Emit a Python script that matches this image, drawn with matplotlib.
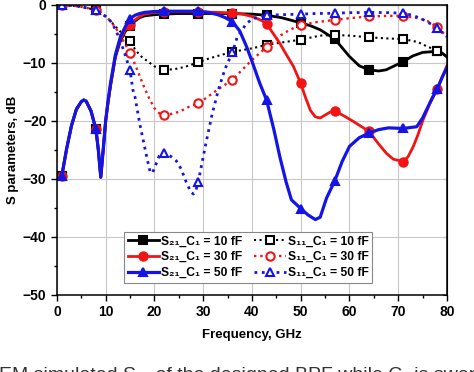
import matplotlib
matplotlib.use('Agg')
import matplotlib.pyplot as plt
from matplotlib.ticker import MultipleLocator

plt.rcParams['font.family'] = ['Liberation Sans', 'DejaVu Sans']
plt.rcParams['font.weight'] = 'bold'

# frequencies (GHz) where the markers sit
MARK_F = [1, 8, 15, 22, 29, 36, 43, 50, 57, 64, 71, 78]

# S21, C1 = 10 fF
f_s21_10 = [1, 2, 3, 4, 5, 5.5, 6, 7, 8, 8.5, 9, 9.5, 10, 10.5, 11, 12, 13, 14, 15, 16, 17, 18,
            20, 22, 25, 29, 33, 36, 40, 43, 46, 50, 52, 54, 57, 60, 62, 64, 66, 67.5, 69, 71,
            73, 75, 78, 79, 80]
s21_10 = [-29.5, -24.8, -20.8, -18.0, -16.7, -16.4, -16.6, -18.3, -21.4, -25.0, -29.7, -25.0,
          -20.0, -16.8, -14.0, -9.0, -6.3, -4.6, -3.7, -2.8, -2.2, -1.9, -1.7, -1.6, -1.5, -1.5,
          -1.5, -1.5, -1.6, -1.8, -2.2, -3.1, -3.6, -4.3, -5.9, -8.9, -10.5, -11.2, -11.4, -11.2,
          -10.6, -9.8, -8.8, -8.2, -8.0, -8.3, -9.0]

# S11, C1 = 10 fF
f_s11_10 = [1, 2, 4, 6, 8, 9, 10, 11, 12, 13, 14, 15, 16, 17, 18.4, 20, 22, 24, 25.2, 27, 29, 31,
            33, 36, 40, 43, 46, 50, 54, 57, 60, 64, 68, 71, 74, 76, 78, 80]
s11_10 = [0.0, -0.05, -0.2, -0.5, -0.9, -1.4, -2.0, -2.8, -3.7, -4.6, -5.5, -6.3, -7.6, -8.7, -9.6,
          -10.6, -11.2, -11.1, -10.9, -10.5, -9.9, -9.3, -8.8, -8.1, -7.5, -6.9, -6.5, -6.0, -5.3,
          -5.2, -5.3, -5.6, -5.8, -5.9, -6.4, -7.2, -7.9, -8.9]

# S21, C1 = 30 fF
f_s21_30 = [1, 2, 3, 4, 5, 5.5, 6, 7, 8, 8.5, 9, 9.5, 10, 10.5, 11, 12, 13, 14, 15, 16, 17, 18,
            20, 22, 29, 33, 36, 38, 40, 42, 43, 44, 45.7, 47, 48.5, 50, 51, 52, 53, 54, 55, 56,
            57, 59, 60.8, 64, 66, 67.6, 69, 71, 72, 73.1, 74, 75.1, 76.5, 78, 79, 80]
s21_30 = [-29.5, -24.8, -20.8, -18.0, -16.7, -16.4, -16.6, -18.3, -21.4, -25.0, -29.7, -25.0,
          -20.0, -16.7, -13.8, -8.8, -6.0, -4.3, -3.5, -2.6, -2.0, -1.6, -1.3, -1.2, -1.2, -1.3,
          -1.4, -1.6, -2.0, -2.7, -3.3, -4.5, -6.6, -8.5, -10.6, -13.5, -16.0, -18.2, -19.3, -19.5,
          -19.0, -18.5, -18.3, -19.2, -20.1, -21.8, -24.0, -25.6, -26.6, -27.0, -26.2, -24.4,
          -22.5, -19.8, -17.0, -14.5, -12.5, -10.5]

# S11, C1 = 30 fF
f_s11_30 = [1, 2, 4, 6, 8, 9, 10, 11, 12, 13, 14, 15, 16, 17, 18, 19.1, 20, 21, 22, 23, 25.2, 27,
            29, 31, 33, 36, 38, 40, 43, 46, 48, 50, 53, 57, 60, 64, 68, 71, 74, 76, 78, 80]
s11_30 = [0.0, -0.05, -0.2, -0.5, -0.9, -1.4, -2.0, -2.8, -3.9, -5.3, -6.8, -8.3, -10.2, -12.3,
          -14.4, -16.4, -17.8, -18.7, -19.0, -18.9, -18.4, -17.6, -17.0, -15.8, -14.6, -12.9,
          -11.2, -9.5, -7.3, -5.2, -4.2, -3.5, -3.0, -2.6, -2.3, -2.0, -1.9, -1.9, -2.3, -2.8,
          -3.8, -5.5]

# S21, C1 = 50 fF
f_s21_50 = [1, 2, 3, 4, 5, 5.5, 6, 7, 8, 8.5, 9, 9.5, 10, 10.5, 11, 12, 13, 14, 15, 16, 17, 18,
            20, 22, 29, 31, 33, 34.5, 36, 37.5, 38.9, 40, 41.6, 43, 44.5, 45.7, 47, 48.1, 50,
            51.5, 53, 54, 55.3, 57, 58.5, 60, 62, 64, 66, 68, 71, 73.8, 75, 75.8, 77, 78, 79, 80]
s21_50 = [-29.5, -24.8, -20.8, -18.0, -16.7, -16.4, -16.6, -18.3, -21.4, -25.0, -29.7, -25.0,
          -20.0, -16.5, -13.5, -8.6, -5.6, -3.8, -2.4, -1.8, -1.5, -1.3, -1.15, -1.1, -1.1, -1.3,
          -1.7, -2.2, -2.9, -4.5, -7.2, -9.7, -13.5, -16.4, -21.5, -26.1, -30.5, -33.6, -35.1,
          -36.2, -37.0, -36.6, -33.3, -30.3, -27.0, -24.4, -22.9, -22.1, -21.5, -21.2, -21.3,
          -21.0, -19.5, -18.1, -16.0, -14.5, -12.5, -10.8]

# S11, C1 = 50 fF
f_s11_50 = [1, 2, 4, 6, 8, 9, 10, 11, 12, 13, 14, 15, 15.6, 16, 17, 17.7, 18.5, 19.1, 19.6, 20.3,
            21, 22, 22.5, 23.5, 24.5, 25.5, 26.5, 27.5, 28, 28.5, 29, 29.7, 30.7, 31.8, 33.1,
            34.5, 36, 37, 38.9, 40, 41.6, 43, 46, 50, 53, 57, 60, 64, 68, 71, 73, 75, 76.5, 78, 80]
s11_50 = [0.0, -0.05, -0.2, -0.5, -0.9, -1.4, -2.0, -2.8, -4.2, -6.2, -8.6, -11.3, -14.7, -15.8,
          -20.5, -23.3, -26.5, -28.7, -29.0, -27.5, -26.0, -25.5, -25.6, -26.2, -26.9, -28.3,
          -30.5, -32.3, -32.6, -32.0, -30.5, -27.5, -23.3, -19.0, -14.7, -11.0, -8.2, -5.5, -3.2,
          -2.5, -2.0, -1.8, -1.7, -1.6, -1.5, -1.45, -1.35, -1.3, -1.35, -1.45, -1.8, -2.5,
          -3.2, -4.0, -5.5]

LABELS_S21 = ['S\u2082\u2081_C\u2081 = 10 fF', 'S\u2082\u2081_C\u2081 = 30 fF', 'S\u2082\u2081_C\u2081 = 50 fF']
LABELS_S11 = ['S\u2081\u2081_C\u2081 = 10 fF', 'S\u2081\u2081_C\u2081 = 30 fF', 'S\u2081\u2081_C\u2081 = 50 fF']

BLACK, RED, BLUE = '#000000', '#f01414', '#1414e6'


def marks(f):
    return [x in MARK_F for x in f]


fig = plt.figure(figsize=(4.74, 3.72), dpi=100)
ax = fig.add_axes([0.120, 0.207, 0.823, 0.780])

series = [
    (f_s21_10, s21_10, BLACK, '-', 's', True, LABELS_S21[0], 2.0),
    (f_s11_10, s11_10, BLACK, ':', 's', False, LABELS_S11[0], 1.5),
    (f_s21_30, s21_30, RED, '-', 'o', True, LABELS_S21[1], 2.0),
    (f_s11_30, s11_30, RED, ':', 'o', False, LABELS_S11[1], 1.7),
    (f_s21_50, s21_50, BLUE, '-', '^', True, LABELS_S21[2], 2.3),
    (f_s11_50, s11_50, BLUE, ':', '^', False, LABELS_S11[2], 2.0),
]
handles = {}
for f, s, col, ls, mk, filled, lab, lw in series:
    ln, = ax.plot(f, s, color=col, ls=ls, lw=lw, marker=mk, markevery=marks(f),
                  ms=6, mew=1.5, mec=col, mfc=col if filled else 'white', label=lab)
    handles[lab] = ln

ax.set_xlim(0, 80)
ax.set_ylim(-50, 0)
ax.xaxis.set_major_locator(MultipleLocator(10))
ax.xaxis.set_minor_locator(MultipleLocator(5))
ax.yaxis.set_major_locator(MultipleLocator(10))
ax.yaxis.set_minor_locator(MultipleLocator(5))
ax.grid(True, which='major', color='#c8c8c8', lw=0.8)
ax.set_axisbelow(True)
ax.tick_params(which='both', direction='out', top=False, right=False, labelsize=10)
ax.tick_params(which='major', length=4, width=1)
ax.tick_params(which='minor', length=2.5, width=1)
for t in ax.get_xticklabels() + ax.get_yticklabels():
    t.set_fontweight('bold')
ax.secondary_xaxis('top').tick_params(which='both', direction='in', labeltop=False, length=3)
ax.secondary_yaxis('right').tick_params(which='both', direction='in', labelright=False, length=3)
for sp in ax.spines.values():
    sp.set_linewidth(1.1)

ax.set_xlabel('Frequency, GHz', fontsize=9.5, fontweight='bold', labelpad=7)
ax.set_ylabel('S parameters, dB', fontsize=9.5, fontweight='bold', labelpad=3)

order = LABELS_S21 + LABELS_S11
leg = ax.legend([handles[k] for k in order], order, ncol=2, loc='lower left',
                bbox_to_anchor=(0.172, 0.043), prop={'size': 8.7, 'weight': 'bold'},
                fancybox=False, edgecolor='#888888', framealpha=1, handlelength=2.6,
                handletextpad=0.2, columnspacing=0.95, labelspacing=0.3, borderpad=0.3,
                borderaxespad=0)
leg.get_frame().set_linewidth(0.8)

fig.text(-0.003, 0.014, 'EM simulated S\u2082\u2081 of the designed BPF while C\u2081 is swept',
         fontsize=14, fontweight='normal', color='#333333', va='top', ha='left')

fig.savefig('out.png', dpi=100)
